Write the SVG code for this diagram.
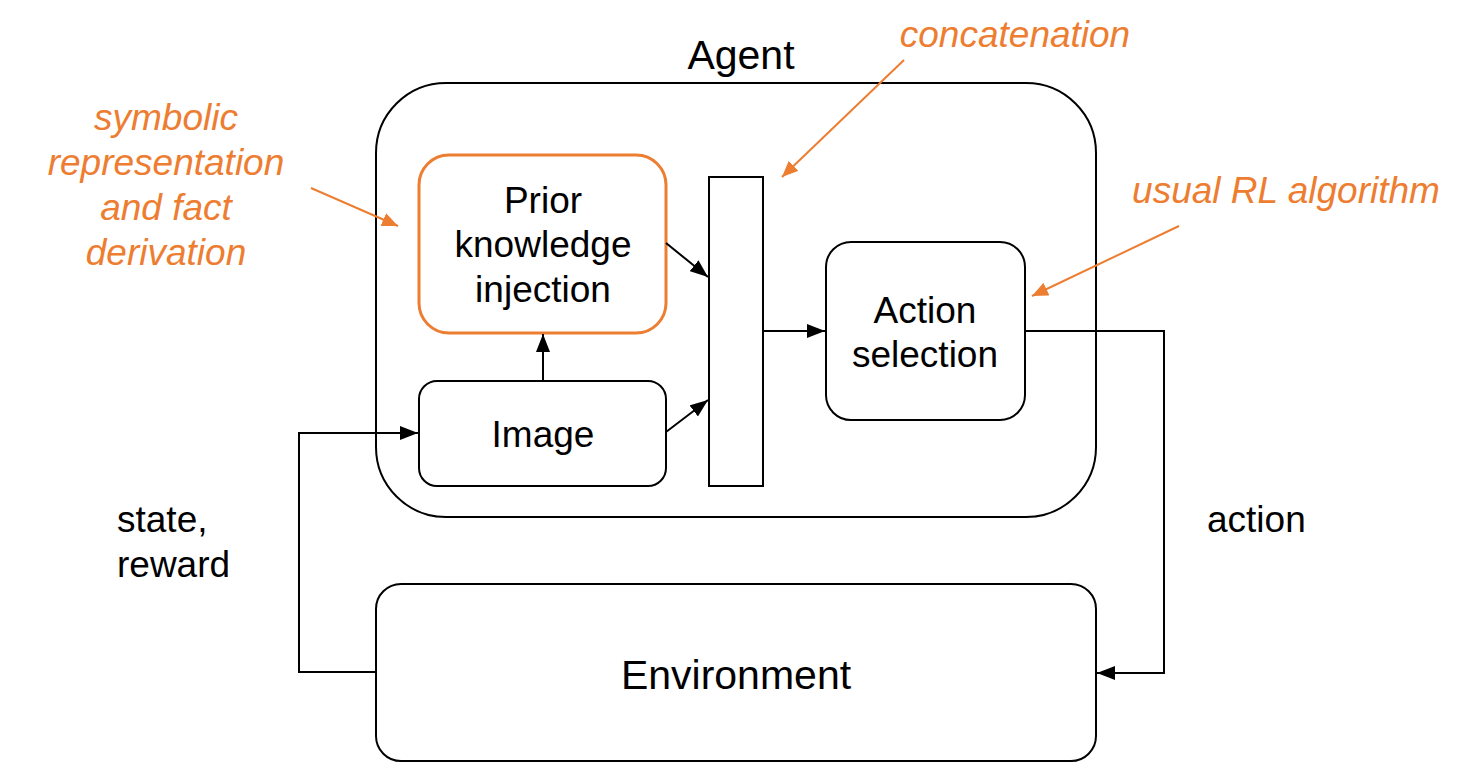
<svg xmlns="http://www.w3.org/2000/svg" width="1464" height="763" viewBox="0 0 1464 763">
<style>
.box{fill:#fff;stroke:#000;stroke-width:2}
.obox{fill:#fff;stroke:#ED7D31;stroke-width:3}
.t{font-family:"Liberation Sans",Arial,sans-serif;font-size:37px;fill:#000;text-anchor:middle}
.big{font-size:41px}
.o{font-family:"Liberation Sans",Arial,sans-serif;font-size:37px;fill:#ED7D31;font-style:italic;text-anchor:middle}
.c{fill:none;stroke:#000;stroke-width:2}
.oc{fill:none;stroke:#ED7D31;stroke-width:2}
</style>
<defs>
<marker id="ah" viewBox="0 0 10 10" refX="10" refY="5" markerWidth="9" markerHeight="9" markerUnits="userSpaceOnUse" orient="auto"><path d="M0,1 L10,5 L0,9 Z" fill="#000"/></marker>
<marker id="ahb" viewBox="0 0 10 10" refX="10" refY="5" markerWidth="18" markerHeight="14" markerUnits="userSpaceOnUse" orient="auto" preserveAspectRatio="none"><path d="M0,0 L10,5 L0,10 Z" fill="#000"/></marker>
<marker id="oh" viewBox="0 0 10 10" refX="10" refY="5" markerWidth="16" markerHeight="14" markerUnits="userSpaceOnUse" orient="auto" preserveAspectRatio="none"><path d="M0,0 L10,5 L0,10 Z" fill="#ED7D31"/></marker>
</defs>
<g id="agent">
<rect class="box" x="376" y="83" width="720" height="434" rx="70"/>
<text class="t big" x="741" y="69">Agent</text>
</g>
<g id="prior">
<rect class="obox" x="419" y="155" width="247" height="178" rx="30"/>
<text class="t" x="543" y="213">Prior</text>
<text class="t" x="543" y="257">knowledge</text>
<text class="t" x="543" y="302">injection</text>
</g>
<g id="image">
<rect class="box" x="419" y="381" width="247" height="105" rx="18"/>
<text class="t" x="543" y="447">Image</text>
</g>
<g id="concat">
<rect class="box" x="709" y="177" width="54" height="309"/>
</g>
<g id="action">
<rect class="box" x="826" y="242" width="199" height="178" rx="25"/>
<text class="t" x="925" y="323">Action</text>
<text class="t" x="925" y="367">selection</text>
</g>
<g id="environment">
<rect class="box" x="376" y="584" width="720" height="177" rx="25"/>
<text class="t big" x="736" y="689">Environment</text>
</g>
<g id="labels">
<text class="t" x="117" y="532" style="text-anchor:start">state,</text>
<text class="t" x="117" y="577" style="text-anchor:start">reward</text>
<text class="t" x="1207" y="532" style="text-anchor:start">action</text>
<text class="o" x="1015" y="47">concatenation</text>
<text class="o" x="1286" y="203">usual RL algorithm</text>
<text class="o" x="166" y="130">symbolic</text>
<text class="o" x="166" y="175">representation</text>
<text class="o" x="166" y="220">and fact</text>
<text class="o" x="166" y="265">derivation</text>
</g>
<g id="connectors">
<line class="c" x1="666" y1="243" x2="708" y2="277" marker-end="url(#ahb)"/>
<line class="c" x1="666" y1="432" x2="708" y2="400" marker-end="url(#ahb)"/>
<line class="c" x1="543" y1="381" x2="543" y2="334" marker-end="url(#ahb)"/>
<line class="c" x1="763" y1="331" x2="825" y2="331" marker-end="url(#ahb)"/>
<polyline class="c" points="1025,331 1164,331 1164,673 1097,673" marker-end="url(#ahb)"/>
<polyline class="c" points="376,672 299,672 299,433 418,433" marker-end="url(#ahb)"/>
<line class="oc" x1="311" y1="188" x2="398" y2="226" marker-end="url(#oh)"/>
<line class="oc" x1="904" y1="60" x2="782" y2="177" marker-end="url(#oh)"/>
<line class="oc" x1="1179" y1="226" x2="1032" y2="296" marker-end="url(#oh)"/>
</g>
</svg>
